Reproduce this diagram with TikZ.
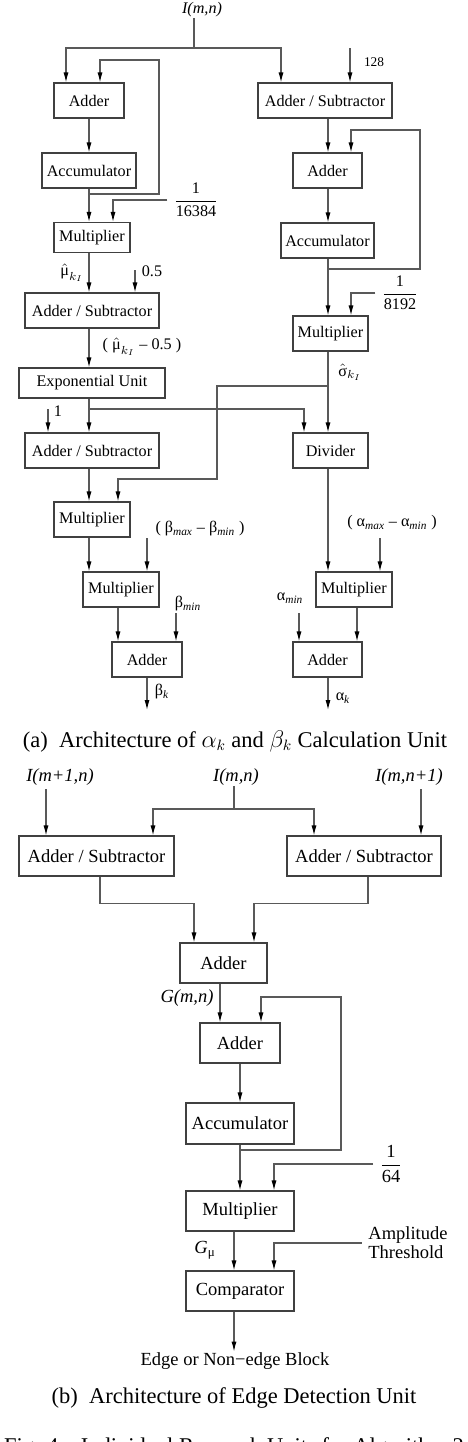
\documentclass[tikz,border=0pt]{standalone}
\usepackage{amsmath}
\usepackage{fontspec}
\setmainfont{Liberation Serif}
\usepackage{tikz}
\usetikzlibrary{arrows.meta, calc}

\begin{document}
\begin{tikzpicture}[->,>={Latex[length=6pt,width=3pt,black]},x=0.6pt,y=-0.6pt,line width=0.65pt,draw=black!65,
    blk/.style={draw=black!75,rectangle,inner sep=0pt,font=\fontsize{9.7}{11.6}\selectfont},
    blkb/.style={blk,font=\fontsize{11.1}{13.3}\selectfont},
    sz/.style 2 args={minimum width=#1*0.6pt,minimum height=#2*0.6pt},
    lbl/.style={inner sep=0pt,font=\fontsize{9.7}{11.6}\selectfont},
    lblb/.style={inner sep=0pt,font=\fontsize{11.1}{11.4}\selectfont},
    captxt/.style={inner sep=0pt,font=\fontsize{13.5}{16}\selectfont}]
    \useasboundingbox (0,0) rectangle (468,1442);

    \coordinate (colL) at (89,0);
    \coordinate (colR) at (328,0);
    \coordinate (colL3) at (118,0);
    \coordinate (colR3) at (357,0);
    \coordinate (colG) at (220,0);
    \coordinate (colC) at (234,0);

    \node[blk,sz={70}{35}] (addL) at (89,100.5) {Adder};
    \node[blk,sz={94}{35}] (accL) at (89,170.5) {Accumulator};
    \node[blk,sz={76}{30}] (mulL) at (92,237.5) {Multiplier};
    \node[blk,sz={134}{35}] (asL) at (92,310.5) {Adder / Subtractor};
    \node[blk,sz={146}{30}] (expL) at (92,383) {Exponential Unit};
    \node[blk,sz={134}{35}] (asL2) at (92,450.5) {Adder / Subtractor};
    \node[blk,sz={76}{35}] (mulL2) at (92,519.5) {Multiplier};
    \node[blk,sz={76}{35}] (mulL3) at (121,589.5) {Multiplier};
    \node[blk,sz={70}{35}] (addL3) at (147,659.5) {Adder};

    \node[blk,sz={134}{35}] (asR) at (325,100.5) {Adder / Subtractor};
    \node[blk,sz={69}{35}] (addR) at (327.5,170.5) {Adder};
    \node[blk,sz={93}{35}] (accR) at (327.5,240.5) {Accumulator};
    \node[blk,sz={75}{35}] (mulR) at (330.5,333.5) {Multiplier};
    \node[blk,sz={75}{35}] (divR) at (330.5,450.5) {Divider};
    \node[blk,sz={76}{35}] (mulR2) at (354,589.5) {Multiplier};
    \node[blk,sz={69}{35}] (addR2) at (327.5,659.5) {Adder};

    \node[lbl] (inA) at (202,10) {\textit{I(m,n)}};
    \node[lbl,font=\fontsize{8}{9}\selectfont] (n128) at (374,62) {128};
    \node[lbl,inner xsep=3.6pt] (f16384) at (196,200) {$\dfrac{\text{1}}{\text{16384}}$};
    \node[lbl] (muL) at (72,273) {$\hat{\text{μ}}_{k_I}$};
    \node[lbl] (n05) at (152,271) {0.5};
    \node[lbl] (muD) at (142,347) {( $\hat{\text{μ}}_{k_I}$ – 0.5 )};
    \node[lbl] (n1) at (58,411) {1};
    \node[lbl] (sgR) at (350,372) {$\hat{\text{σ}}_{k_I}$};
    \node[lbl,inner xsep=3.6pt] (f8192) at (400,293) {$\dfrac{\text{1}}{\text{8192}}$};
    \node[lbl] (bRng) at (200,529) {( β\textsubscript{\textit{max}} – β\textsubscript{\textit{min}} )};
    \node[lbl] (bMin) at (188,604) {β\textsubscript{\textit{min}}};
    \node[lbl] (bK) at (162,692) {β\textsubscript{\textit{k}}};
    \node[lbl] (aRng) at (392,523) {( α\textsubscript{\textit{max}} – α\textsubscript{\textit{min}} )};
    \node[lbl] (aMin) at (290,598) {α\textsubscript{\textit{min}}};
    \node[lbl] (aK) at (343,698) {α\textsubscript{\textit{k}}};
    \node[captxt,anchor=base] (capA) at (235,747) {(a)\ \ Architecture of $\alpha_k$ and $\beta_k$ Calculation Unit};

    \coordinate (splitA) at (194,48);
    \coordinate (c128) at (350,48);
    \coordinate (tapL) at (89,194);
    \coordinate (fbL) at (159,60);
    \coordinate (c05) at (135,270);
    \coordinate (tapE) at (89,409);
    \coordinate (c1) at (48,409);
    \coordinate (cBr) at (147,538);
    \coordinate (cBm) at (176,613);
    \coordinate (outB) at (147,710);
    \coordinate (tapR) at (328,269);
    \coordinate (fbR) at (420,130);
    \coordinate (tapS) at (328,386);
    \coordinate (bendS) at (217,479);
    \coordinate (cAr) at (380,538);
    \coordinate (cAm) at (299,613);
    \coordinate (outA) at (328,710);

    \draw[-] (inA.south -| splitA) -- (splitA);
    \draw (splitA) -| ($(addL.north)+(-23,0)$);
    \draw (splitA) -| ($(asR.north)+(-44,0)$);
    \draw (c128) -- (c128 |- asR.north);
    \draw (addL) -- (accL);
    \draw (tapL) -| (fbL) -| ($(addL.north)+(11,0)$);
    \draw (accL.south -| colL) -- (mulL.north -| colL);
    \draw (f16384.west) -| ($(mulL.north)+(21,0)$);
    \draw (mulL.south -| colL) -- (asL.north -| colL);
    \draw (c05) -- (c05 |- asL.north);
    \draw (asL.south -| colL) -- (expL.north -| colL);
    \draw[-] (expL.south -| colL) -- (tapE);
    \draw (tapE) -- (asL2.north -| colL);
    \draw (tapE) -| ($(divR.north)+(-26.5,0)$);
    \draw (c1) -- (c1 |- asL2.north);
    \draw (asL2.south -| colL) -- (mulL2.north -| colL);
    \draw (mulL2.south -| colL) -- (mulL3.north -| colL);
    \draw (cBr) -- (cBr |- mulL3.north);
    \draw (mulL3.south -| colL3) -- (addL3.north -| colL3);
    \draw (cBm) -- (cBm |- addL3.north);
    \draw (addL3) -- (outB);

    \draw (asR.south -| colR) -- (addR.north -| colR);
    \draw (addR.south -| colR) -- (accR.north -| colR);
    \draw (tapR) -| (fbR) -| ($(addR.north)+(23.5,0)$);
    \draw (accR.south -| colR) -- (mulR.north -| colR);
    \draw (f8192.west) -| ($(mulR.north)+(20.5,0)$);
    \draw[-] (mulR.south -| colR) -- (tapS);
    \draw (tapS) -- (divR.north -| colR);
    \draw (tapS) -| (bendS) -| ($(mulL2.north)+(26,0)$);
    \draw (divR.south -| colR) -- (mulR2.north -| colR);
    \draw (cAr) -- (cAr |- mulR2.north);
    \draw (mulR2.south -| colR3) -- (addR2.north -| colR3);
    \draw (cAm) -- (cAm |- addR2.north);
    \draw (addR2.south -| colR) -- (outA);

    \node[lblb] (inB1) at (60,777) {\textit{I(m+1,n)}};
    \node[lblb] (inB0) at (236,777) {\textit{I(m,n)}};
    \node[lblb] (inB2) at (409,777) {\textit{I(m,n+1)}};
    \node[blkb,sz={155}{40}] (asB1) at (96.5,856) {Adder / Subtractor};
    \node[blkb,sz={154}{40}] (asB2) at (364,856) {Adder / Subtractor};
    \node[blkb,sz={87}{40}] (addB) at (223.5,963) {Adder};
    \node[blkb,sz={80}{40}] (addB2) at (240,1043) {Adder};
    \node[blkb,sz={108}{41}] (accB) at (240,1123.5) {Accumulator};
    \node[blkb,sz={108}{40}] (mulB) at (240,1211) {Multiplier};
    \node[blkb,sz={108}{40}] (cmpB) at (240,1291) {Comparator};
    \node[lblb] (gmn) at (187,998) {\textit{G(m,n)}};
    \node[lblb,inner xsep=3.6pt] (f64) at (391,1164) {$\dfrac{\text{1}}{\text{64}}$};
    \node[lblb] (gmu) at (205,1250) {\textit{G}\textsubscript{μ}};
    \node[lblb,align=left,inner xsep=3.6pt] (thr) at (408,1243) {Amplitude\\Threshold};
    \node[lblb,anchor=base] (edge) at (235,1365) {Edge or Non−edge Block};
    \node[captxt,anchor=base] (capB) at (234,1403) {(b)\ \ Architecture of Edge Detection Unit};
    \node[captxt,anchor=base] (fig) at (234,1453) {Fig. 4.\ \ \ Individual Research Units for Algorithm 2};

    \coordinate (cB1) at (46,789);
    \coordinate (cB2) at (421,789);
    \coordinate (splitB) at (234,809);
    \coordinate (tapB) at (240,1150);
    \coordinate (fbB) at (341,997);

    \draw (cB1) -- (cB1 |- asB1.north);
    \draw (cB2) -- (cB2 |- asB2.north);
    \draw[-] (inB0.south -| splitB) -- (splitB);
    \draw (splitB) -| ($(asB1.north)+(56.5,0)$);
    \draw (splitB) -| ($(asB2.north)+(-50,0)$);
    \draw ($(asB1.south)+(3.5,0)$) -- ++(0,27) -| ($(addB.north)+(-29.5,0)$);
    \draw ($(asB2.south)+(4,0)$) -- ++(0,27) -| ($(addB.north)+(30.5,0)$);
    \draw (addB.south -| colG) -- (addB2.north -| colG);
    \draw (tapB) -| (fbB) -| ($(addB2.north)+(21,0)$);
    \draw (addB2) -- (accB);
    \draw (accB) -- (mulB);
    \draw (f64.west) -| ($(mulB.north)+(34,0)$);
    \draw (mulB.south -| colC) -- (cmpB.north -| colC);
    \draw (thr.west) -| ($(cmpB.north)+(34,0)$);
    \draw (cmpB.south -| colC) -- (edge.north -| colC);
\end{tikzpicture}
\end{document}
